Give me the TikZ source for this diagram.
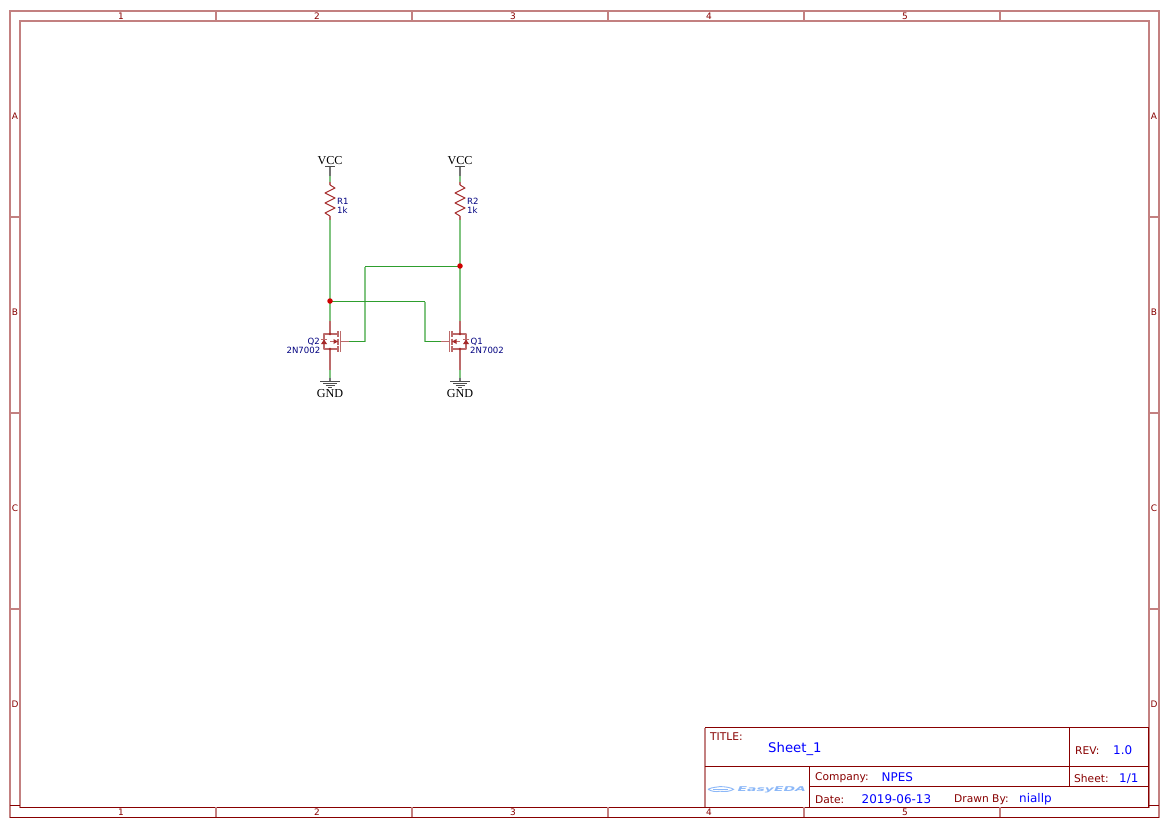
\documentclass[tikz,border=0pt]{standalone}
\usepackage{fontspec}
\setmainfont{DejaVu Sans}
\newfontfamily\serifnet{Liberation Serif}
\definecolor{framered}{HTML}{880000}
\definecolor{framesoft}{HTML}{C38080}
\definecolor{partred}{HTML}{A52A2A}
\definecolor{partsoft}{HTML}{BC6A6A}
\definecolor{wiresoft}{HTML}{80C480}
\definecolor{wirecrisp}{HTML}{2E9E2E}
\definecolor{labelnavy}{HTML}{000080}
\definecolor{valueblue}{HTML}{0000FF}
\definecolor{logoblue}{HTML}{8CB8F8}
\definecolor{junctionred}{HTML}{D00000}
\tikzset{
  frameline/.style={draw=framesoft,line width=2bp},
  blockline/.style={draw=framered,line width=1bp},
  wire/.style={draw=wiresoft,line width=2bp},
  wireacross/.style={draw=wirecrisp,line width=1bp},
  zigline/.style={draw=partred,line width=1bp,line join=round},
  partline/.style={draw=partsoft,line width=1.6bp,line join=round},
  netline/.style={draw=black!55,line width=2bp},
  netbar/.style={draw=black!70,line width=1bp},
  tick/.style={text=framered,font=\fontsize{9}{9}\selectfont,inner sep=0pt},
  blocklabel/.style={text=framered,font=\fontsize{10.7}{11}\selectfont,inner sep=0pt,anchor=west},
  blockvalue/.style={text=valueblue,font=\fontsize{12}{12}\selectfont,inner sep=0pt,anchor=west},
  partlabel/.style={text=labelnavy,font=\fontsize{8.6}{8.6}\selectfont,inner sep=0pt},
  netlabel/.style={text=black,font=\serifnet\fontsize{12.2}{12.2}\selectfont,inner sep=0pt},
  junction/.style={circle,fill=junctionred,draw=none,minimum size=5.5bp,inner sep=0pt},
}
\begin{document}
\begin{tikzpicture}[x=1bp,y=-1bp]
\useasboundingbox (0,0) rectangle (1169,828);
\fill[white] (0,0) rectangle (1169,828);
% sheet frame
\draw[frameline] (10,818) -- (10,11) -- (1159,11) -- (1159,818);
\draw[frameline] (20,808) -- (20,21) -- (1149,21) -- (1149,808);
\draw[blockline] (10,817.5) -- (1159,817.5);
\draw[blockline] (20,807.5) -- (1149,807.5);
\foreach \x in {216,412,608,804,1000}{
  \draw[frameline] (\x,11) -- (\x,21);
  \draw[frameline] (\x,807) -- (\x,817);
}
\foreach \y in {217,413,609}{
  \draw[frameline] (10,\y) -- (20,\y);
  \draw[frameline] (1149,\y) -- (1159,\y);
}
\draw[blockline] (10,805.5) -- (20,805.5);
\draw[blockline] (1149,805.5) -- (1159,805.5);
\foreach \x/\t in {121/1,317/2,513/3,709/4,905/5}{
  \node[tick] at (\x,16.5) {\t};
  \node[tick] at (\x,812.5) {\t};
}
\foreach \y/\t in {116/A,312/B,508/C,704/D}{
  \node[tick] at (15,\y) {\t};
  \node[tick] at (1154,\y) {\t};
}
% title block
\fill[white] (706,728) rectangle (1148,807);
\draw[frameline] (705,727.5) -- (705,807);
\draw[blockline] (705,727.5) -- (1148.5,727.5) -- (1148.5,807.5);
\draw[blockline] (705,766.5) -- (1148.5,766.5);
\draw[blockline] (809.5,786.5) -- (1148.5,786.5);
\draw[blockline] (809.5,766.5) -- (809.5,807);
\draw[blockline] (1069.5,727.5) -- (1069.5,786.5);
\node[blocklabel] at (710,737) {TITLE:};
\node[blockvalue,font=\fontsize{13.3}{14}\selectfont] at (768,749.5) {Sheet\_1};
\node[blocklabel] at (1075,750.5) {REV:};
\node[blockvalue] at (1113,750) {1.0};
\node[blocklabel] at (815,777.5) {Company:};
\node[blockvalue] at (881.5,777) {NPES};
\node[blocklabel] at (1074,779) {Sheet:};
\node[blockvalue] at (1119,778.5) {1/1};
\node[blocklabel] at (815,799.5) {Date:};
\node[blockvalue] at (861.5,799) {2019-06-13};
\node[blocklabel] at (954,799.5) {Drawn By:};
\node[blockvalue] at (1019,799) {niallp};
% logo
\draw[logoblue,line width=.9bp] (708,789.3) .. controls (713,786.8) and (716,787.6) .. (720,786.6) .. controls (725,786.6) and (731,787.5) .. (733.5,789.3) .. controls (730,791.6) and (725,791.8) .. (720,791.2) .. controls (716,792) and (712,791.6) .. (708,789.3);
\draw[logoblue,line width=.8bp] (713,789.5) -- (728,789.5);
\node[inner sep=0pt,text=logoblue,anchor=west] at (737.5,789.5) {\scalebox{2}[0.95]{\fontsize{7}{7}\selectfont\bfseries\itshape EasyEDA}};
% net symbols and pins
\foreach \n/\x in {a/330,b/460}{
  \coordinate (vcc\n) at (\x,166.5);
  \coordinate (stem\n) at (\x,176);
  \coordinate (rtop\n) at (\x,182);
  \coordinate (rbot\n) at (\x,220);
  \coordinate (drain\n) at (\x,321);
  \coordinate (source\n) at (\x,370);
  \coordinate (gnd\n) at (\x,381);
  \coordinate (pin\n) at (\x,378);
  \draw[netbar] ([xshift=-5bp]vcc\n) -- ([xshift=5bp]vcc\n);
  \draw[netline] (vcc\n) -- (stem\n);
  \draw[wire] (stem\n) -- (rtop\n);
  \draw[partline] (rtop\n) -- ++(0,3);
  \draw[zigline] (\x,185) -- ++(5,3) -- ++(-10,5) -- ++(10,5) -- ++(-10,5) -- ++(10,5) -- ++(-10,5) -- ++(5,3);
  \draw[partline] (\x,216) -- (rbot\n);
  \draw[netline] (pin\n) -- (gnd\n);
  \draw[wire] (source\n) -- (pin\n);
  \draw[netbar] ([xshift=-10bp,yshift=-.5bp]gnd\n) -- ([xshift=10bp,yshift=-.5bp]gnd\n);
  \draw[netbar] ([xshift=-7bp,yshift=-2.5bp]gnd\n) -- ([xshift=7bp,yshift=-2.5bp]gnd\n);
  \draw[netbar] ([xshift=-4.5bp,yshift=-4.5bp]gnd\n) -- ([xshift=4.5bp,yshift=-4.5bp]gnd\n);
  \draw[netbar] ([xshift=-2bp,yshift=-6.5bp]gnd\n) -- ([xshift=2bp,yshift=-6.5bp]gnd\n);
  \node[netlabel] at (\x,160.5) {VCC};
  \node[netlabel] at (\x,393.5) {GND};
}
% transistors
\foreach \n/\x/\s in {a/330/1,b/460/-1}{
  \begin{scope}[shift={(\x,0)},xscale=\s]
    \coordinate (gate\n) at (19,341.5);
    \draw[partline] (0,321) -- (0,334) -- (8,334);
    \draw[partline] (0,370) -- (0,349) -- (8,349);
    \draw[partline] (0,341.5) -- (8,341.5);
    \draw[partline] (0,334) -- (-6,334) -- (-6,349) -- (0,349);
    \draw[partline] (8,331) -- (8,337) (8,338.5) -- (8,344.5) (8,346) -- (8,352);
    \draw[partline] (10.5,331) -- (10.5,352);
    \draw[partline] (10.5,341.5) -- (gate\n);
    \fill[partred] (8,341.5) -- (3.5,339) -- (3.5,344) -- cycle;
    \fill[partred] (-6,339.5) -- (-9,344) -- (-3,344) -- cycle;
    \draw[partline,line width=.8bp] (-9,339) -- (-3,339);
    \fill[partred] (0,334) circle (1.4) (0,349) circle (1.4);
  \end{scope}
}
\node[partlabel,anchor=west] (r1) at (337,201) {R1};
\node[partlabel,anchor=west] (r1v) at (337,210.5) {1k};
\node[partlabel,anchor=west] (r2) at (467,201) {R2};
\node[partlabel,anchor=west] (r2v) at (467,210.5) {1k};
\node[partlabel,anchor=east] (q2) at (320,341.5) {Q2};
\node[partlabel,anchor=east] (q2v) at (320.5,350.5) {2N7002};
\node[partlabel,anchor=west] (q1) at (470.5,341.5) {Q1};
\node[partlabel,anchor=west] (q1v) at (470,350.5) {2N7002};
% wires
\coordinate (jaw) at (330,301.5);
\coordinate (jbw) at (460,266.5);
\coordinate (ta) at (365,341.5);
\coordinate (tb) at (365,266.5);
\coordinate (ua) at (425,301.5);
\coordinate (ub) at (425,341.5);
\draw[wire] (rbota) -- (jaw) -- (draina);
\draw[wire] (rbotb) -- (jbw) -- (drainb);
\draw[wire] (ta) -- (tb);
\draw[wire] (ua) -- (ub);
\draw[wireacross] (gatea) -- (ta);
\draw[wireacross] (tb) -- (jbw);
\draw[wireacross] (jaw) -- (ua);
\draw[wireacross] (ub) -- (gateb);
\node[junction] (ja) at (330,301) {};
\node[junction] (jb) at (460,266) {};
\end{tikzpicture}
\end{document}
